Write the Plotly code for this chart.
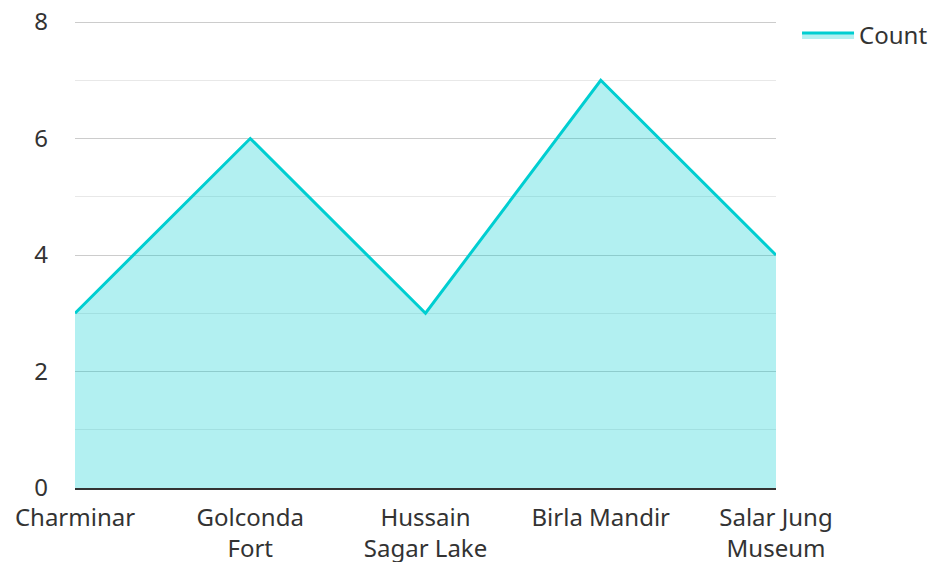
import plotly.graph_objects as go

categories = ["Charminar", "Golconda<br>Fort", "Hussain<br>Sagar Lake", "Birla Mandir", "Salar Jung<br>Museum"]
counts = [3, 6, 3, 7, 4]
series_name = "Count"

fig = go.Figure()
fig.add_trace(go.Scatter(
    x=categories, y=counts, name=series_name, mode="lines",
    line=dict(color="#00CED1", width=3),
    fill="tozeroy", fillcolor="rgba(0,206,209,0.3)",
    cliponaxis=False,
))

font = "Noto Sans, Open Sans, sans-serif"
fig.update_layout(
    width=934, height=562,
    margin=dict(l=75, r=158, t=20, b=74, autoexpand=False),
    paper_bgcolor="white", plot_bgcolor="white",
    font=dict(family=font, size=24, color="#333"),
    showlegend=True,
    legend=dict(x=1.03, y=1.015, xanchor="left", yanchor="top", font=dict(size=24, color="#333"),
                bgcolor="rgba(0,0,0,0)", itemwidth=52),
)
fig.update_xaxes(
    range=[0, 4], showgrid=False, showline=True, linecolor="#333", linewidth=2,
    ticks="", tickfont=dict(size=24, color="#333"), ticklabelstandoff=7, zeroline=False,
    automargin=False,
)
fig.update_yaxes(
    range=[0, 8.0343], tickvals=[0, 2, 4, 6, 8], showgrid=True, gridcolor="#cccccc", gridwidth=1,
    zeroline=False, showline=False, ticks="",
    tickfont=dict(size=24, color="#333"), ticklabelstandoff=26,
    minor=dict(tickvals=[1, 3, 5, 7], showgrid=True, gridcolor="#e8e8e8", gridwidth=1),
    automargin=False,
)
fig.write_html("out.html", config={"displayModeBar": False},
               post_script="document.body.style.margin='0px';")
